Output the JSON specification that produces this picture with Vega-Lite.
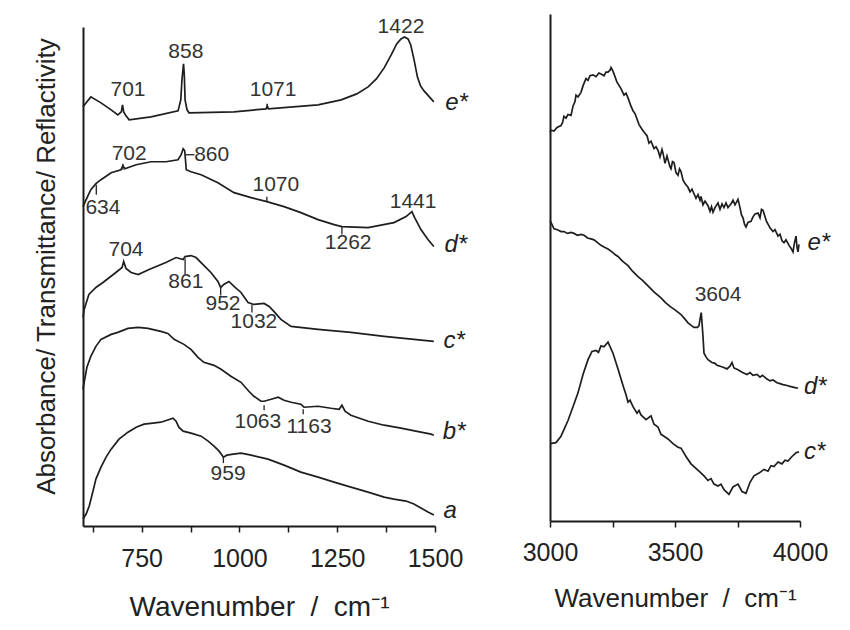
{
 "$schema": "https://vega.github.io/schema/vega-lite/v6.json",
 "autosize": {"type": "pad"},
 "padding": {"left": 32, "top": 14, "right": 5, "bottom": 5},
 "background": "white",
 "spacing": 115,
 "bounds": "flush",
 "config": {
  "font": "Liberation Sans",
  "view": {"stroke": null},
  "axis": {"grid": false, "domainColor": "#1a1a1a", "domainWidth": 2, "tickColor": "#1a1a1a", "tickWidth": 1.5, "labelColor": "#222", "titleColor": "#222", "titleFontWeight": "normal"}
 },
 "datasets": {
  "L": [
   {"c":"e*","wn":600,"v":420},{"c":"e*","wn":620,"v":430},{"c":"e*","wn":646,"v":424},{"c":"e*","wn":672,"v":417},{"c":"e*","wn":689,"v":412},{"c":"e*","wn":698,"v":415},{"c":"e*","wn":701,"v":422},{"c":"e*","wn":704,"v":415},{"c":"e*","wn":710,"v":411},{"c":"e*","wn":718,"v":407},{"c":"e*","wn":774,"v":410},{"c":"e*","wn":843,"v":416},{"c":"e*","wn":850,"v":427},{"c":"e*","wn":853,"v":447},{"c":"e*","wn":857,"v":463},{"c":"e*","wn":859,"v":452},{"c":"e*","wn":861,"v":427},{"c":"e*","wn":866,"v":417},{"c":"e*","wn":871,"v":414},{"c":"e*","wn":986,"v":415},{"c":"e*","wn":1068,"v":418},{"c":"e*","wn":1071,"v":421},{"c":"e*","wn":1074,"v":418},{"c":"e*","wn":1201,"v":422},{"c":"e*","wn":1260,"v":427},{"c":"e*","wn":1300,"v":433},{"c":"e*","wn":1329,"v":440},{"c":"e*","wn":1350,"v":448},{"c":"e*","wn":1370,"v":459},{"c":"e*","wn":1388,"v":472},{"c":"e*","wn":1402,"v":483},{"c":"e*","wn":1413,"v":488},{"c":"e*","wn":1422,"v":490},{"c":"e*","wn":1431,"v":488},{"c":"e*","wn":1438,"v":482},{"c":"e*","wn":1446,"v":468},{"c":"e*","wn":1455,"v":450},{"c":"e*","wn":1463,"v":441},{"c":"e*","wn":1472,"v":436},{"c":"e*","wn":1497,"v":425},
   {"c":"d*","wn":600,"v":320},{"c":"d*","wn":608,"v":327},{"c":"d*","wn":620,"v":337},{"c":"d*","wn":633,"v":343},{"c":"d*","wn":646,"v":347},{"c":"d*","wn":672,"v":354},{"c":"d*","wn":697,"v":357},{"c":"d*","wn":702,"v":361},{"c":"d*","wn":707,"v":358},{"c":"d*","wn":736,"v":362},{"c":"d*","wn":774,"v":365},{"c":"d*","wn":812,"v":365},{"c":"d*","wn":843,"v":367},{"c":"d*","wn":851,"v":372},{"c":"d*","wn":856,"v":378},{"c":"d*","wn":860,"v":376},{"c":"d*","wn":862,"v":367},{"c":"d*","wn":864,"v":357},{"c":"d*","wn":876,"v":355},{"c":"d*","wn":902,"v":352},{"c":"d*","wn":945,"v":344},{"c":"d*","wn":986,"v":334},{"c":"d*","wn":1030,"v":329},{"c":"d*","wn":1070,"v":325},{"c":"d*","wn":1114,"v":320},{"c":"d*","wn":1157,"v":314},{"c":"d*","wn":1201,"v":307},{"c":"d*","wn":1242,"v":302},{"c":"d*","wn":1262,"v":300},{"c":"d*","wn":1329,"v":299},{"c":"d*","wn":1395,"v":304},{"c":"d*","wn":1426,"v":310},{"c":"d*","wn":1441,"v":315},{"c":"d*","wn":1448,"v":309},{"c":"d*","wn":1464,"v":297},{"c":"d*","wn":1482,"v":287},{"c":"d*","wn":1497,"v":280},
   {"c":"c*","wn":600,"v":209},{"c":"c*","wn":603,"v":217},{"c":"c*","wn":615,"v":232},{"c":"c*","wn":633,"v":239},{"c":"c*","wn":651,"v":244},{"c":"c*","wn":684,"v":254},{"c":"c*","wn":700,"v":259},{"c":"c*","wn":704,"v":265},{"c":"c*","wn":710,"v":258},{"c":"c*","wn":723,"v":254},{"c":"c*","wn":741,"v":252},{"c":"c*","wn":769,"v":257},{"c":"c*","wn":812,"v":264},{"c":"c*","wn":838,"v":269},{"c":"c*","wn":856,"v":267},{"c":"c*","wn":861,"v":270},{"c":"c*","wn":876,"v":271},{"c":"c*","wn":889,"v":269},{"c":"c*","wn":907,"v":262},{"c":"c*","wn":927,"v":254},{"c":"c*","wn":945,"v":245},{"c":"c*","wn":952,"v":239},{"c":"c*","wn":960,"v":242},{"c":"c*","wn":973,"v":245},{"c":"c*","wn":989,"v":239},{"c":"c*","wn":1004,"v":234},{"c":"c*","wn":1022,"v":224},{"c":"c*","wn":1037,"v":222},{"c":"c*","wn":1063,"v":223},{"c":"c*","wn":1076,"v":220},{"c":"c*","wn":1088,"v":215},{"c":"c*","wn":1106,"v":207},{"c":"c*","wn":1132,"v":200},{"c":"c*","wn":1201,"v":197},{"c":"c*","wn":1285,"v":194},{"c":"c*","wn":1370,"v":190},{"c":"c*","wn":1497,"v":185},
   {"c":"b*","wn":600,"v":137},{"c":"b*","wn":603,"v":144},{"c":"b*","wn":610,"v":159},{"c":"b*","wn":620,"v":170},{"c":"b*","wn":633,"v":180},{"c":"b*","wn":646,"v":187},{"c":"b*","wn":672,"v":192},{"c":"b*","wn":689,"v":194},{"c":"b*","wn":715,"v":198},{"c":"b*","wn":741,"v":199},{"c":"b*","wn":766,"v":198},{"c":"b*","wn":799,"v":195},{"c":"b*","wn":817,"v":193},{"c":"b*","wn":833,"v":187},{"c":"b*","wn":858,"v":182},{"c":"b*","wn":876,"v":177},{"c":"b*","wn":894,"v":169},{"c":"b*","wn":909,"v":164},{"c":"b*","wn":935,"v":161},{"c":"b*","wn":953,"v":157},{"c":"b*","wn":978,"v":150},{"c":"b*","wn":1004,"v":144},{"c":"b*","wn":1024,"v":135},{"c":"b*","wn":1037,"v":130},{"c":"b*","wn":1055,"v":125},{"c":"b*","wn":1063,"v":125},{"c":"b*","wn":1081,"v":127},{"c":"b*","wn":1099,"v":129},{"c":"b*","wn":1114,"v":126},{"c":"b*","wn":1132,"v":124},{"c":"b*","wn":1157,"v":122},{"c":"b*","wn":1165,"v":119},{"c":"b*","wn":1201,"v":120},{"c":"b*","wn":1234,"v":118},{"c":"b*","wn":1255,"v":117},{"c":"b*","wn":1262,"v":121},{"c":"b*","wn":1270,"v":115},{"c":"b*","wn":1285,"v":111},{"c":"b*","wn":1329,"v":105},{"c":"b*","wn":1370,"v":101},{"c":"b*","wn":1413,"v":98},{"c":"b*","wn":1451,"v":95},{"c":"b*","wn":1490,"v":92},{"c":"b*","wn":1497,"v":91},
   {"c":"a","wn":600,"v":7},{"c":"a","wn":608,"v":12},{"c":"a","wn":616,"v":20},{"c":"a","wn":625,"v":34},{"c":"a","wn":633,"v":47},{"c":"a","wn":646,"v":59},{"c":"a","wn":659,"v":69},{"c":"a","wn":672,"v":77},{"c":"a","wn":692,"v":87},{"c":"a","wn":715,"v":94},{"c":"a","wn":736,"v":99},{"c":"a","wn":756,"v":102},{"c":"a","wn":779,"v":103},{"c":"a","wn":799,"v":104},{"c":"a","wn":815,"v":106},{"c":"a","wn":830,"v":108},{"c":"a","wn":838,"v":105},{"c":"a","wn":845,"v":99},{"c":"a","wn":856,"v":95},{"c":"a","wn":876,"v":93},{"c":"a","wn":902,"v":90},{"c":"a","wn":920,"v":85},{"c":"a","wn":935,"v":80},{"c":"a","wn":948,"v":75},{"c":"a","wn":959,"v":69},{"c":"a","wn":968,"v":71},{"c":"a","wn":984,"v":72},{"c":"a","wn":1004,"v":73},{"c":"a","wn":1030,"v":71},{"c":"a","wn":1073,"v":67},{"c":"a","wn":1114,"v":61},{"c":"a","wn":1157,"v":54},{"c":"a","wn":1201,"v":49},{"c":"a","wn":1242,"v":44},{"c":"a","wn":1285,"v":39},{"c":"a","wn":1329,"v":34},{"c":"a","wn":1370,"v":29},{"c":"a","wn":1395,"v":27},{"c":"a","wn":1426,"v":25},{"c":"a","wn":1446,"v":22},{"c":"a","wn":1464,"v":18},{"c":"a","wn":1482,"v":14},{"c":"a","wn":1497,"v":11}
  ],
  "LR": [
   {"wn":634,"wn2":634,"v":332,"v2":342},{"wn":702,"wn2":702,"v":357,"v2":363},{"wn":862,"wn2":885,"v":372,"v2":372},{"wn":1070,"wn2":1070,"v":325,"v2":330},{"wn":1262,"wn2":1262,"v":292,"v2":300},{"wn":1071,"wn2":1071,"v":418,"v2":423},
   {"wn":861,"wn2":861,"v":252,"v2":268},{"wn":952,"wn2":952,"v":231,"v2":239},{"wn":1032,"wn2":1032,"v":214,"v2":222},
   {"wn":1063,"wn2":1063,"v":116,"v2":121},{"wn":1163,"wn2":1163,"v":112,"v2":117},{"wn":959,"wn2":959,"v":63,"v2":69}
  ],
  "LP": [
   {"wn":715,"v":437,"t":"701"},{"wn":863,"v":475,"t":"858"},{"wn":1086,"v":437,"t":"1071"},{"wn":1413,"v":500,"t":"1422"},
   {"wn":718,"v":373,"t":"702"},{"wn":929,"v":372,"t":"860"},{"wn":651,"v":319,"t":"634"},{"wn":1093,"v":342,"t":"1070"},{"wn":1278,"v":284,"t":"1262"},{"wn":1444,"v":325,"t":"1441"},
   {"wn":710,"v":277,"t":"704"},{"wn":863,"v":244,"t":"861"},{"wn":958,"v":222,"t":"952"},{"wn":1037,"v":204,"t":"1032"},
   {"wn":1047,"v":104,"t":"1063"},{"wn":1178,"v":99,"t":"1163"},{"wn":971,"v":52,"t":"959"}
  ],
  "LC": [
   {"wn":1526,"v":424,"t":"e*"},{"wn":1524,"v":282,"t":"d*"},{"wn":1522,"v":185,"t":"c*"},{"wn":1520,"v":94,"t":"b*"},{"wn":1522,"v":15,"t":"a"}
  ],
  "R": [
   {"c":"e*","wn":3000,"v":422},{"c":"e*","wn":3004,"v":424},{"c":"e*","wn":3016,"v":423},{"c":"e*","wn":3028,"v":427},{"c":"e*","wn":3044,"v":429},{"c":"e*","wn":3050,"v":432},{"c":"e*","wn":3056,"v":439},{"c":"e*","wn":3064,"v":437},{"c":"e*","wn":3072,"v":441},{"c":"e*","wn":3084,"v":440},{"c":"e*","wn":3092,"v":450},{"c":"e*","wn":3100,"v":455},{"c":"e*","wn":3104,"v":462},{"c":"e*","wn":3112,"v":460},{"c":"e*","wn":3124,"v":465},{"c":"e*","wn":3132,"v":472},{"c":"e*","wn":3144,"v":480},{"c":"e*","wn":3152,"v":478},{"c":"e*","wn":3160,"v":483},{"c":"e*","wn":3172,"v":484},{"c":"e*","wn":3184,"v":482},{"c":"e*","wn":3196,"v":486},{"c":"e*","wn":3204,"v":485},{"c":"e*","wn":3216,"v":483},{"c":"e*","wn":3224,"v":487},{"c":"e*","wn":3232,"v":487},{"c":"e*","wn":3240,"v":489},{"c":"e*","wn":3244,"v":492},{"c":"e*","wn":3250,"v":489},{"c":"e*","wn":3256,"v":485},{"c":"e*","wn":3268,"v":476},{"c":"e*","wn":3284,"v":469},{"c":"e*","wn":3296,"v":462},{"c":"e*","wn":3304,"v":464},{"c":"e*","wn":3312,"v":459},{"c":"e*","wn":3324,"v":450},{"c":"e*","wn":3332,"v":445},{"c":"e*","wn":3340,"v":442},{"c":"e*","wn":3344,"v":439},{"c":"e*","wn":3356,"v":430},{"c":"e*","wn":3368,"v":425},{"c":"e*","wn":3376,"v":422},{"c":"e*","wn":3388,"v":418},{"c":"e*","wn":3396,"v":410},{"c":"e*","wn":3404,"v":412},{"c":"e*","wn":3416,"v":404},{"c":"e*","wn":3424,"v":406},{"c":"e*","wn":3432,"v":402},{"c":"e*","wn":3440,"v":395},{"c":"e*","wn":3448,"v":403},{"c":"e*","wn":3452,"v":399},{"c":"e*","wn":3460,"v":388},{"c":"e*","wn":3468,"v":396},{"c":"e*","wn":3472,"v":392},{"c":"e*","wn":3480,"v":384},{"c":"e*","wn":3484,"v":382},{"c":"e*","wn":3490,"v":390},{"c":"e*","wn":3496,"v":389},{"c":"e*","wn":3504,"v":378},{"c":"e*","wn":3512,"v":375},{"c":"e*","wn":3518,"v":382},{"c":"e*","wn":3524,"v":379},{"c":"e*","wn":3532,"v":370},{"c":"e*","wn":3540,"v":366},{"c":"e*","wn":3552,"v":362},{"c":"e*","wn":3560,"v":357},{"c":"e*","wn":3568,"v":360},{"c":"e*","wn":3576,"v":355},{"c":"e*","wn":3584,"v":350},{"c":"e*","wn":3592,"v":354},{"c":"e*","wn":3600,"v":348},{"c":"e*","wn":3604,"v":352},{"c":"e*","wn":3612,"v":343},{"c":"e*","wn":3620,"v":347},{"c":"e*","wn":3632,"v":342},{"c":"e*","wn":3640,"v":336},{"c":"e*","wn":3646,"v":341},{"c":"e*","wn":3652,"v":335},{"c":"e*","wn":3660,"v":340},{"c":"e*","wn":3672,"v":345},{"c":"e*","wn":3680,"v":338},{"c":"e*","wn":3688,"v":344},{"c":"e*","wn":3696,"v":340},{"c":"e*","wn":3704,"v":345},{"c":"e*","wn":3712,"v":340},{"c":"e*","wn":3724,"v":344},{"c":"e*","wn":3732,"v":348},{"c":"e*","wn":3740,"v":343},{"c":"e*","wn":3752,"v":349},{"c":"e*","wn":3760,"v":340},{"c":"e*","wn":3766,"v":332},{"c":"e*","wn":3772,"v":329},{"c":"e*","wn":3778,"v":322},{"c":"e*","wn":3784,"v":319},{"c":"e*","wn":3792,"v":324},{"c":"e*","wn":3804,"v":325},{"c":"e*","wn":3812,"v":330},{"c":"e*","wn":3820,"v":333},{"c":"e*","wn":3832,"v":334},{"c":"e*","wn":3840,"v":329},{"c":"e*","wn":3846,"v":338},{"c":"e*","wn":3852,"v":337},{"c":"e*","wn":3860,"v":330},{"c":"e*","wn":3866,"v":325},{"c":"e*","wn":3872,"v":322},{"c":"e*","wn":3880,"v":318},{"c":"e*","wn":3892,"v":314},{"c":"e*","wn":3900,"v":316},{"c":"e*","wn":3912,"v":309},{"c":"e*","wn":3920,"v":311},{"c":"e*","wn":3928,"v":304},{"c":"e*","wn":3936,"v":302},{"c":"e*","wn":3944,"v":305},{"c":"e*","wn":3956,"v":299},{"c":"e*","wn":3964,"v":296},{"c":"e*","wn":3972,"v":292},{"c":"e*","wn":3978,"v":302},{"c":"e*","wn":3984,"v":309},{"c":"e*","wn":3988,"v":297},{"c":"e*","wn":3992,"v":292},{"c":"e*","wn":3996,"v":300},
   {"c":"d*","wn":3000,"v":326},{"c":"d*","wn":3004,"v":324},{"c":"d*","wn":3016,"v":317},{"c":"d*","wn":3030,"v":316},{"c":"d*","wn":3044,"v":314},{"c":"d*","wn":3056,"v":314},{"c":"d*","wn":3070,"v":312},{"c":"d*","wn":3084,"v":313},{"c":"d*","wn":3096,"v":312},{"c":"d*","wn":3110,"v":310},{"c":"d*","wn":3124,"v":311},{"c":"d*","wn":3136,"v":310},{"c":"d*","wn":3150,"v":307},{"c":"d*","wn":3164,"v":306},{"c":"d*","wn":3176,"v":305},{"c":"d*","wn":3190,"v":302},{"c":"d*","wn":3204,"v":299},{"c":"d*","wn":3218,"v":297},{"c":"d*","wn":3232,"v":295},{"c":"d*","wn":3248,"v":292},{"c":"d*","wn":3260,"v":289},{"c":"d*","wn":3272,"v":287},{"c":"d*","wn":3290,"v":282},{"c":"d*","wn":3312,"v":277},{"c":"d*","wn":3330,"v":271},{"c":"d*","wn":3352,"v":265},{"c":"d*","wn":3370,"v":261},{"c":"d*","wn":3392,"v":255},{"c":"d*","wn":3418,"v":248},{"c":"d*","wn":3444,"v":242},{"c":"d*","wn":3462,"v":237},{"c":"d*","wn":3484,"v":232},{"c":"d*","wn":3500,"v":229},{"c":"d*","wn":3524,"v":224},{"c":"d*","wn":3540,"v":219},{"c":"d*","wn":3552,"v":215},{"c":"d*","wn":3566,"v":212},{"c":"d*","wn":3576,"v":210},{"c":"d*","wn":3590,"v":210},{"c":"d*","wn":3596,"v":212},{"c":"d*","wn":3602,"v":222},{"c":"d*","wn":3605,"v":226},{"c":"d*","wn":3608,"v":215},{"c":"d*","wn":3612,"v":200},{"c":"d*","wn":3616,"v":182},{"c":"d*","wn":3624,"v":178},{"c":"d*","wn":3632,"v":175},{"c":"d*","wn":3648,"v":172},{"c":"d*","wn":3660,"v":171},{"c":"d*","wn":3668,"v":169},{"c":"d*","wn":3690,"v":167},{"c":"d*","wn":3708,"v":165},{"c":"d*","wn":3720,"v":168},{"c":"d*","wn":3728,"v":172},{"c":"d*","wn":3736,"v":166},{"c":"d*","wn":3752,"v":164},{"c":"d*","wn":3770,"v":161},{"c":"d*","wn":3788,"v":159},{"c":"d*","wn":3800,"v":161},{"c":"d*","wn":3812,"v":158},{"c":"d*","wn":3828,"v":159},{"c":"d*","wn":3840,"v":156},{"c":"d*","wn":3850,"v":158},{"c":"d*","wn":3868,"v":154},{"c":"d*","wn":3880,"v":152},{"c":"d*","wn":3892,"v":153},{"c":"d*","wn":3908,"v":150},{"c":"d*","wn":3920,"v":149},{"c":"d*","wn":3932,"v":148},{"c":"d*","wn":3948,"v":147},{"c":"d*","wn":3960,"v":146},{"c":"d*","wn":3976,"v":145},{"c":"d*","wn":3992,"v":144},
   {"c":"c*","wn":3000,"v":84},{"c":"c*","wn":3024,"v":85},{"c":"c*","wn":3044,"v":92},{"c":"c*","wn":3072,"v":109},{"c":"c*","wn":3092,"v":124},{"c":"c*","wn":3112,"v":139},{"c":"c*","wn":3132,"v":159},{"c":"c*","wn":3152,"v":175},{"c":"c*","wn":3168,"v":184},{"c":"c*","wn":3184,"v":185},{"c":"c*","wn":3194,"v":183},{"c":"c*","wn":3204,"v":190},{"c":"c*","wn":3216,"v":189},{"c":"c*","wn":3232,"v":194},{"c":"c*","wn":3252,"v":182},{"c":"c*","wn":3272,"v":165},{"c":"c*","wn":3292,"v":147},{"c":"c*","wn":3304,"v":137},{"c":"c*","wn":3312,"v":129},{"c":"c*","wn":3320,"v":131},{"c":"c*","wn":3332,"v":124},{"c":"c*","wn":3348,"v":117},{"c":"c*","wn":3356,"v":120},{"c":"c*","wn":3364,"v":115},{"c":"c*","wn":3384,"v":110},{"c":"c*","wn":3404,"v":114},{"c":"c*","wn":3416,"v":105},{"c":"c*","wn":3432,"v":102},{"c":"c*","wn":3444,"v":94},{"c":"c*","wn":3456,"v":92},{"c":"c*","wn":3472,"v":89},{"c":"c*","wn":3492,"v":84},{"c":"c*","wn":3512,"v":80},{"c":"c*","wn":3524,"v":79},{"c":"c*","wn":3544,"v":70},{"c":"c*","wn":3564,"v":62},{"c":"c*","wn":3576,"v":59},{"c":"c*","wn":3596,"v":54},{"c":"c*","wn":3616,"v":49},{"c":"c*","wn":3632,"v":44},{"c":"c*","wn":3644,"v":46},{"c":"c*","wn":3656,"v":40},{"c":"c*","wn":3672,"v":38},{"c":"c*","wn":3684,"v":40},{"c":"c*","wn":3696,"v":34},{"c":"c*","wn":3716,"v":29},{"c":"c*","wn":3732,"v":37},{"c":"c*","wn":3752,"v":40},{"c":"c*","wn":3768,"v":32},{"c":"c*","wn":3784,"v":30},{"c":"c*","wn":3800,"v":42},{"c":"c*","wn":3816,"v":49},{"c":"c*","wn":3836,"v":52},{"c":"c*","wn":3856,"v":56},{"c":"c*","wn":3872,"v":54},{"c":"c*","wn":3884,"v":60},{"c":"c*","wn":3896,"v":59},{"c":"c*","wn":3912,"v":64},{"c":"c*","wn":3928,"v":62},{"c":"c*","wn":3940,"v":66},{"c":"c*","wn":3952,"v":65},{"c":"c*","wn":3968,"v":70},{"c":"c*","wn":3984,"v":74},{"c":"c*","wn":3996,"v":75}
  ],
  "RP": [{"wn":3672,"v":245,"t":"3604"}],
  "RC": [{"wn":4030,"v":302,"t":"e*"},{"wn":4016,"v":145,"t":"d*"},{"wn":4016,"v":75,"t":"c*"}]
 },
 "hconcat": [
  {
   "width": 352,
   "height": 512,
   "layer": [
    {
     "data": {"name": "L"},
     "mark": {"type": "line", "color": "#1e1e1e", "strokeWidth": 1.7},
     "encoding": {
      "x": {"field": "wn", "type": "quantitative", "scale": {"domain": [600, 1500]},
       "axis": {"title": "Wavenumber\u00a0\u00a0/\u00a0\u00a0cm⁻¹", "values": [625, 750, 875, 1000, 1125, 1250, 1375, 1500], "format": "d", "labelExpr": "datum.value % 250 === 0 ? datum.label : ''", "labelFlush": false, "labelFontSize": 25, "labelPadding": 14, "tickSize": 6, "titleFontSize": 28, "titlePadding": 22}},
      "y": {"field": "v", "type": "quantitative", "scale": {"domain": [0, 499], "range": [512, 13]},
       "axis": {"title": "Absorbance/ Transmittance/ Reflactivity", "labels": false, "ticks": false, "titleFontSize": 26, "titleAngle": 270, "titleX": -29, "titleY": 252, "titleBaseline": "alphabetic", "titleAlign": "center"}},
      "detail": {"field": "c", "type": "nominal"}
     }
    },
    {
     "data": {"name": "LR"},
     "mark": {"type": "rule", "color": "#222", "strokeWidth": 1.3},
     "encoding": {"x": {"field": "wn", "type": "quantitative"}, "x2": {"field": "wn2"}, "y": {"field": "v", "type": "quantitative"}, "y2": {"field": "v2"}}
    },
    {
     "data": {"name": "LP"},
     "mark": {"type": "text", "fontSize": 21, "color": "#333", "align": "center", "baseline": "middle"},
     "encoding": {"x": {"field": "wn", "type": "quantitative"}, "y": {"field": "v", "type": "quantitative"}, "text": {"field": "t"}}
    },
    {
     "data": {"name": "LC"},
     "mark": {"type": "text", "fontSize": 24, "fontStyle": "italic", "color": "#222", "align": "left", "baseline": "middle"},
     "encoding": {"x": {"field": "wn", "type": "quantitative"}, "y": {"field": "v", "type": "quantitative"}, "text": {"field": "t"}}
    }
   ]
  },
  {
   "width": 250,
   "height": 507,
   "layer": [
    {
     "data": {"name": "R"},
     "mark": {"type": "line", "color": "#1e1e1e", "strokeWidth": 1.7},
     "encoding": {
      "x": {"field": "wn", "type": "quantitative", "scale": {"domain": [3000, 4000]},
       "axis": {"title": "Wavenumber\u00a0\u00a0/\u00a0\u00a0cm⁻¹", "values": [3250, 3500, 3750, 4000, 3000], "format": "d", "labelExpr": "datum.value % 500 === 0 ? datum.label : ''", "labelFlush": false, "labelFontSize": 25, "labelPadding": 13, "tickSize": 6, "titleFontSize": 26, "titlePadding": 20}},
      "y": {"field": "v", "type": "quantitative", "scale": {"domain": [0, 507]},
       "axis": {"title": null, "labels": false, "ticks": false}},
      "detail": {"field": "c", "type": "nominal"}
     }
    },
    {
     "data": {"name": "RP"},
     "mark": {"type": "text", "fontSize": 21, "color": "#333", "align": "center", "baseline": "middle"},
     "encoding": {"x": {"field": "wn", "type": "quantitative"}, "y": {"field": "v", "type": "quantitative"}, "text": {"field": "t"}}
    },
    {
     "data": {"name": "RC"},
     "mark": {"type": "text", "fontSize": 24, "fontStyle": "italic", "color": "#222", "align": "left", "baseline": "middle"},
     "encoding": {"x": {"field": "wn", "type": "quantitative"}, "y": {"field": "v", "type": "quantitative"}, "text": {"field": "t"}}
    }
   ]
  }
 ]
}
